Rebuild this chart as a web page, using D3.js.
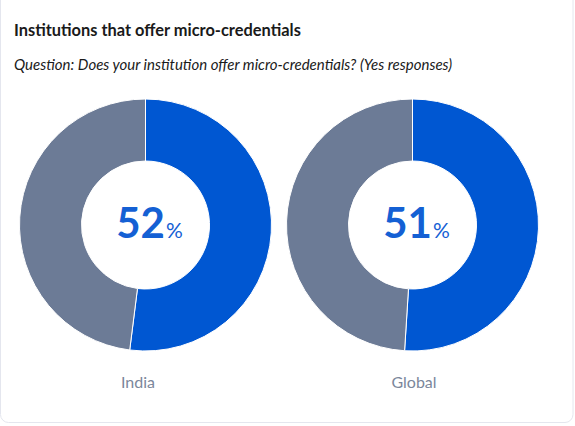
<!DOCTYPE html>
<html>
<head>
<meta charset="utf-8">
<script src="https://cdn.jsdelivr.net/npm/d3@7"></script>
<style>
  body { margin: 0; background: #fff; }
  svg { display: block; }
</style>
</head>
<body>
<script>
// chart data
const regions = ['India', 'Global']
const yesValues = [52, 51]
const sliceNames = ['Yes', 'Other']

const width = 575
const height = 426
const outerR = 126
const innerR = 64
const cy = 225

const colors = d3.scaleOrdinal()
  .domain(sliceNames)
  .range(['#0057d2', '#6c7b96'])

// center x of each donut
const xScale = d3.scalePoint()
  .domain(regions)
  .range([145.5, 412.5])

// the region names sit a little off the donut centers
const labelScale = d3.scalePoint()
  .domain(regions)
  .range([138, 414])

const svg = d3.select('body')
  .append('svg')
  .attr('width', width)
  .attr('height', height)

// card outline
svg.append('rect')
  .attr('x', 0.5)
  .attr('y', -20)
  .attr('width', 572.5)
  .attr('height', 442.5)
  .attr('rx', 8)
  .attr('fill', '#fff')
  .attr('stroke', '#e4e6ee')
  .attr('stroke-width', 1)

svg.append('text')
  .attr('x', 14)
  .attr('y', 36)
  .attr('font-family', 'Lato, sans-serif')
  .attr('font-weight', 'bold')
  .attr('font-size', '16.4px')
  .attr('fill', '#1a1a1a')
  .text('Institutions that offer micro-credentials')

svg.append('text')
  .attr('x', 14)
  .attr('y', 70)
  .attr('font-family', 'Lato, sans-serif')
  .attr('font-style', 'italic')
  .attr('font-size', '15px')
  .attr('fill', '#1a1a1a')
  .text('Question: Does your institution offer micro-credentials? (Yes responses)')

const pie = d3.pie().sort(null).value((d) => d.value)
const arc = d3.arc().innerRadius(innerR).outerRadius(outerR)

regions.forEach((region, i) => {
  const v = yesValues[i]
  const slices = pie([{ name: 'Yes', value: v }, { name: 'Other', value: 100 - v }])
  const g = svg.append('g')
    .attr('transform', 'translate(' + xScale(region) + ',' + cy + ')')

  g.selectAll('path')
    .data(slices)
    .enter()
    .append('path')
    .attr('d', arc)
    .attr('fill', (d) => colors(d.data.name))
    .attr('stroke', '#fff')
    .attr('stroke-width', 1)

  const label = g.append('text')
    .attr('x', 4)
    .attr('y', 13)
    .attr('text-anchor', 'middle')
    .attr('font-family', 'Lato, sans-serif')
    .attr('fill', '#1460d4')
  label.append('tspan')
    .attr('font-size', '42px')
    .attr('font-weight', 'bold')
    .text(v)
  label.append('tspan')
    .attr('font-size', '21px')
    .attr('dx', 1)
    .text('%')

  svg.append('text')
    .attr('x', labelScale(region))
    .attr('y', 388)
    .attr('text-anchor', 'middle')
    .attr('font-family', 'Lato, sans-serif')
    .attr('font-size', '16px')
    .attr('fill', '#7b879b')
    .text(region)
})
</script>
</body>
</html>
